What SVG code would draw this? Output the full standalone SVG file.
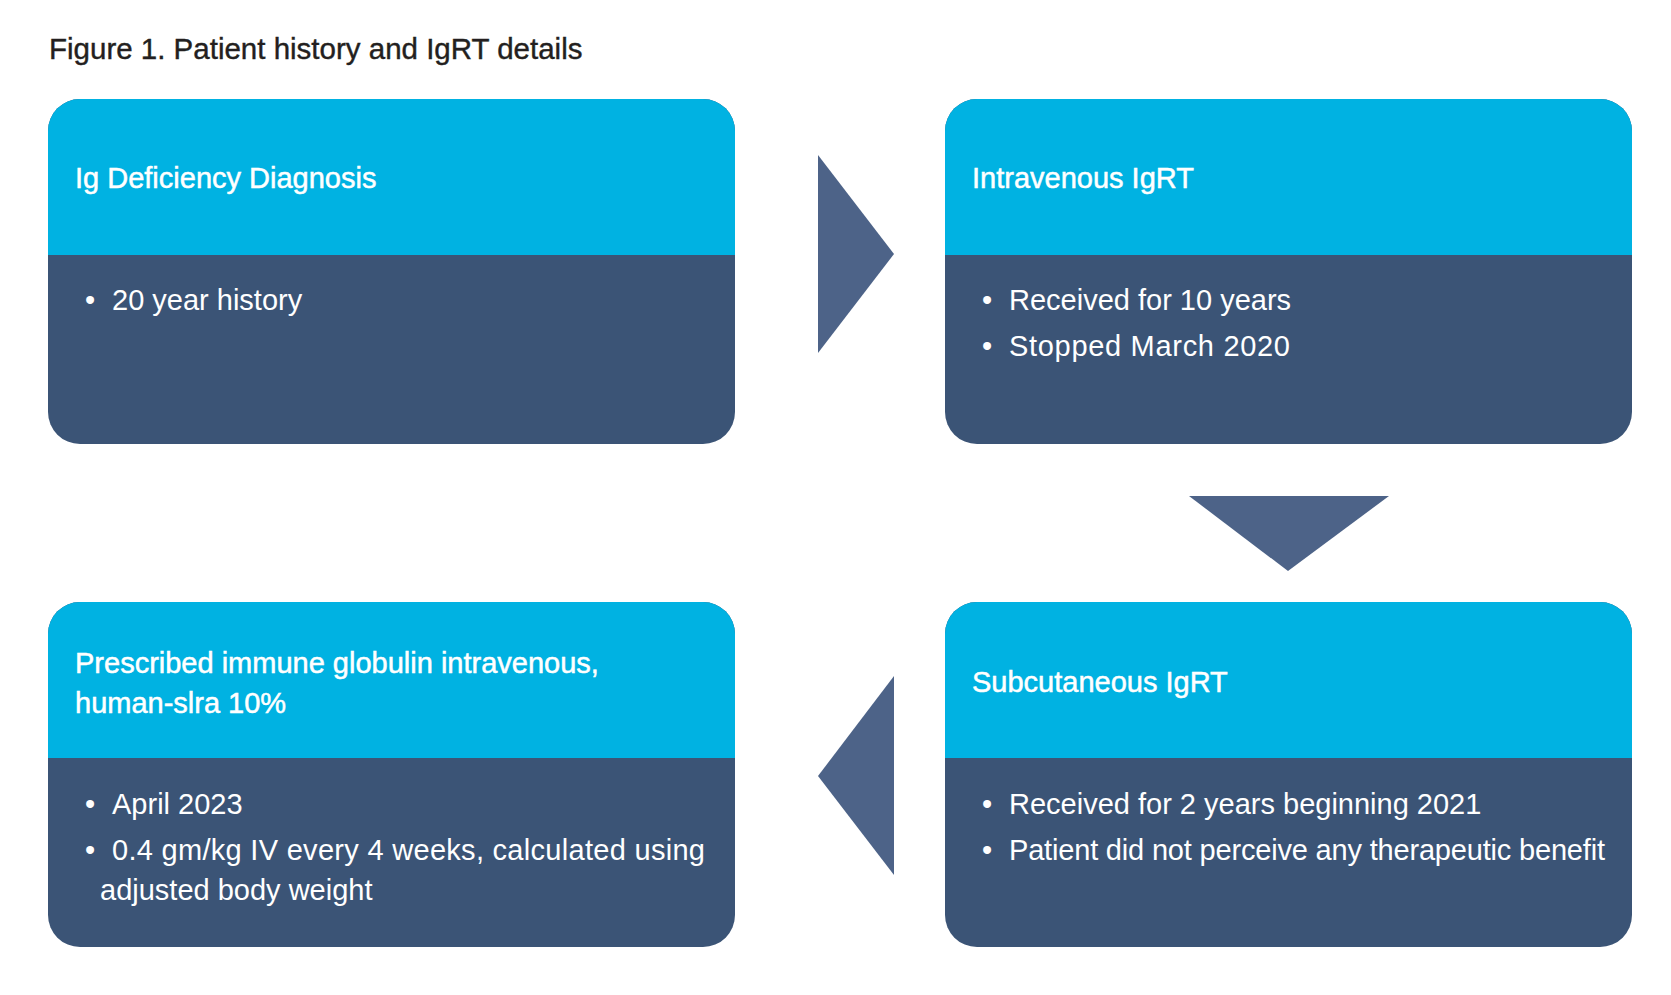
<svg xmlns="http://www.w3.org/2000/svg" width="1671" height="995" viewBox="0 0 1671 995">
<style>
  .title{font-family:"Liberation Sans",Arial,sans-serif;font-size:29.5px;fill:#231f20;stroke:#231f20;stroke-width:0.4}
  .body{fill:#3b5476}
  .head{fill:#00b2e2}
  .htxt{font-family:"Liberation Sans",Arial,sans-serif;font-size:29px;fill:#ffffff;stroke:#ffffff;stroke-width:0.5}
  .btxt{font-family:"Liberation Sans",Arial,sans-serif;font-size:29px;fill:#ffffff}
  .arrow{fill:#4d6388}
</style>
<defs>
  <rect id="card" x="0" y="0" width="687" height="345" rx="32" ry="32"/>
  <path id="cardhead" d="M0,156 V32 A32,32 0 0 1 32,0 H655 A32,32 0 0 1 687,32 V156 Z"/>
</defs>
<rect width="1671" height="995" fill="#ffffff"/>
<text class="title" x="49" y="59">Figure 1. Patient history and IgRT details</text>

<g id="node-diagnosis" transform="translate(48,99)">
  <use href="#card" class="body"/>
  <use href="#cardhead" class="head"/>
  <text class="htxt" x="27" y="89">Ig Deficiency Diagnosis</text>
  <text class="btxt" x="37" y="211">•</text>
  <text class="btxt" x="64" y="211">20 year history</text>
</g>

<g id="node-ivigrt" transform="translate(945,99)">
  <use href="#card" class="body"/>
  <use href="#cardhead" class="head"/>
  <text class="htxt" x="27" y="89">Intravenous IgRT</text>
  <text class="btxt" x="37" y="211">•</text>
  <text class="btxt" x="64" y="211">Received for 10 years</text>
  <text class="btxt" x="37" y="257">•</text>
  <text class="btxt" x="64" y="257" textLength="281">Stopped March 2020</text>
</g>

<g id="node-scigrt" transform="translate(945,602)">
  <use href="#card" class="body"/>
  <use href="#cardhead" class="head"/>
  <text class="htxt" x="27" y="90">Subcutaneous IgRT</text>
  <text class="btxt" x="37" y="212">•</text>
  <text class="btxt" x="64" y="212">Received for 2 years beginning 2021</text>
  <text class="btxt" x="37" y="258">•</text>
  <text class="btxt" x="64" y="258" textLength="596">Patient did not perceive any therapeutic benefit</text>
</g>

<g id="node-prescribed" transform="translate(48,602)">
  <use href="#card" class="body"/>
  <use href="#cardhead" class="head"/>
  <text class="htxt" x="27" y="71">Prescribed immune globulin intravenous,</text>
  <text class="htxt" x="27" y="111">human-slra 10%</text>
  <text class="btxt" x="37" y="212">•</text>
  <text class="btxt" x="64" y="212">April 2023</text>
  <text class="btxt" x="37" y="258">•</text>
  <text class="btxt" x="64" y="258" textLength="593">0.4 gm/kg IV every 4 weeks, calculated using</text>
  <text class="btxt" x="52" y="298">adjusted body weight</text>
</g>

<g id="connectors">
  <polygon class="arrow" points="818,155 894,254 818,353"/>
  <polygon class="arrow" points="1189,496 1389,496 1288,571"/>
  <polygon class="arrow" points="894,676 818,776 894,875"/>
</g>
</svg>
